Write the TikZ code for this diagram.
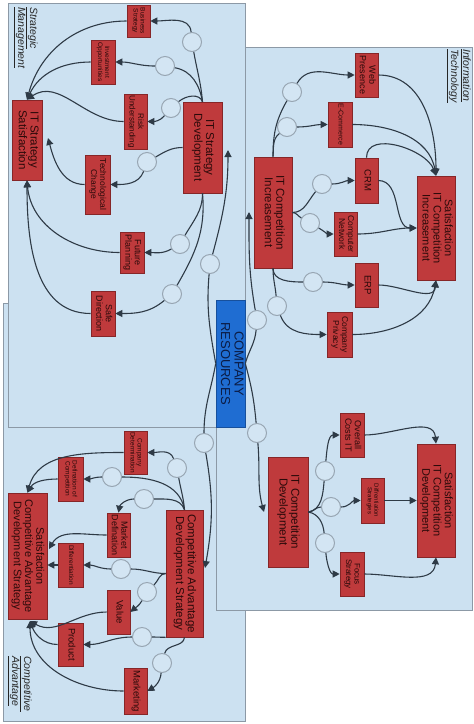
\documentclass[tikz,border=0pt]{standalone}
\usepackage{fontspec}
\setmainfont{Liberation Sans}
\setsansfont{Liberation Sans}
\usepackage{graphicx}
\usetikzlibrary{arrows.meta,calc}
\definecolor{panelfill}{HTML}{CCE1F1}
\definecolor{panelline}{HTML}{8C99A6}
\definecolor{boxfill}{HTML}{BF3A3C}
\definecolor{boxline}{HTML}{862628}
\definecolor{boxtext}{HTML}{2B0A0A}
\definecolor{crfill}{HTML}{1F6DD2}
\definecolor{crline}{HTML}{17509C}
\definecolor{crtext}{HTML}{0B1C45}
\definecolor{wirecol}{HTML}{2E3A46}
\definecolor{valvefill}{HTML}{D3E5F3}
\definecolor{valveline}{HTML}{98A6B3}
\newcommand{\rtxt}[3]{\rotatebox{-90}{\fontsize{#1}{#2}\selectfont\begin{tabular}{@{}c@{}}#3\end{tabular}}}
\begin{document}
\begin{tikzpicture}[x=1pt,y=1pt,
  panel/.style={fill=panelfill, draw=panelline, line width=1pt},
  box/.style={draw=boxline, fill=boxfill, line width=0.6pt, inner sep=0pt, text=boxtext},
  crbox/.style={draw=crline, fill=crfill, line width=0.6pt, inner sep=0pt, text=crtext},
  valve/.style={circle, draw=valveline, fill=valvefill, line width=1pt, minimum size=19pt, inner sep=0pt},
  wire/.style={draw=wirecol, line width=1.1pt},
  arr/.style={wire, -{Triangle[length=7pt,width=7pt]}},
  lbl/.style={rotate=-90, anchor=north west, align=left, font=\fontsize{10.5}{12}\selectfont\itshape, inner sep=0pt, text=black!85},
]
\useasboundingbox (0,0) rectangle (474,-724);
\fill[white] (0,0) rectangle (474,-724);
% panels
\draw[panel] (3,-303) rectangle (245,-721);
\draw[panel] (216,-47) rectangle (472,-610);
\draw[panel] (8,-3) rectangle (245,-427);
% labels
\node[lbl] (lsm) at (38,-7) {\underline{Strategic}\\\underline{Management}};
\node[lbl] (lit) at (471,-49) {\underline{Information}\\\underline{Technology}};
\node[lbl] (lca) at (32,-656) {\underline{Competitive}\\\underline{Advantage}};
% ---- Strategic Management boxes
\node[box,minimum width=23pt,minimum height=32pt] (bs) at (138.5,-21) {\rtxt{6.5}{6.8}{Business\\Strategy}};
\node[box,minimum width=24pt,minimum height=44pt] (io) at (103,-62) {\rtxt{6.5}{6.8}{Investment\\Opportunities}};
\node[box,minimum width=23pt,minimum height=55pt] (ru) at (135.5,-121.5) {\rtxt{8}{8.5}{Risk\\Understanding}};
\node[box,minimum width=39pt,minimum height=91pt] (itsd) at (202.5,-147.5) {\rtxt{11.5}{11.5}{IT Strategy\\Development}};
\node[box,minimum width=30pt,minimum height=80pt] (itss) at (27,-140) {\rtxt{11.5}{11.5}{IT Strategy\\Satisfaction}};
\node[box,minimum width=25pt,minimum height=59pt] (tc) at (97.5,-184.5) {\rtxt{8.5}{9}{Technological\\Change}};
\node[box,minimum width=24pt,minimum height=41pt] (fp) at (132,-252.5) {\rtxt{9}{9.5}{Future\\Planning}};
\node[box,minimum width=24pt,minimum height=45pt] (sd) at (103,-313.5) {\rtxt{9}{9.5}{Safe\\Direction}};
% company resources
\node[crbox,minimum width=29pt,minimum height=127pt] (cr) at (230.5,-363.5) {\rtxt{13}{13.5}{COMPANY\\RESOURCES}};
% ---- Information Technology boxes
\node[box,minimum width=23pt,minimum height=44pt] (wp) at (366.5,-75) {\rtxt{9}{9.5}{Web\\Presence}};
\node[box,minimum width=24pt,minimum height=45pt] (ec) at (340,-124.5) {\rtxt{7}{7}{E-Commerce}};
\node[box,minimum width=23pt,minimum height=45pt] (crm) at (366.5,-180.5) {\rtxt{9.5}{10}{CRM}};
\node[box,minimum width=23pt,minimum height=44pt] (cn) at (345.5,-234) {\rtxt{8.5}{9}{Computer\\Network}};
\node[box,minimum width=23pt,minimum height=44pt] (erp) at (366.5,-285) {\rtxt{9.5}{10}{ERP}};
\node[box,minimum width=25pt,minimum height=45pt] (cp) at (339.5,-334.5) {\rtxt{8.5}{9}{Company\\Privacy}};
\node[box,minimum width=38pt,minimum height=111pt] (itci) at (273,-212.5) {\rtxt{11.5}{11.5}{IT Competition\\Increasement}};
\node[box,minimum width=38pt,minimum height=104pt] (sitci) at (436,-228) {\rtxt{11}{11}{Satisfaction\\IT Competition\\Increasement}};
\node[box,minimum width=40pt,minimum height=110pt] (itcd) at (288,-512) {\rtxt{11.5}{11.5}{IT Competition\\Development}};
\node[box,minimum width=24pt,minimum height=44pt] (oc) at (352,-435) {\rtxt{9}{9.5}{Overall\\Costs IT}};
\node[box,minimum width=23pt,minimum height=45pt] (ds) at (372.5,-500.5) {\rtxt{6}{6.5}{Diffrentiation\\Strategies}};
\node[box,minimum width=24pt,minimum height=44pt] (fs) at (352,-574) {\rtxt{8}{8.5}{Focus\\Strategy}};
\node[box,minimum width=38pt,minimum height=113pt] (sitcd) at (436,-500.5) {\rtxt{11}{11}{Satisfaction\\IT Competition\\Development}};
% ---- Competitive Advantage boxes
\node[box,minimum width=23pt,minimum height=43pt] (cd) at (135.5,-452.5) {\rtxt{6.5}{7}{Company\\Determination}};
\node[box,minimum width=25pt,minimum height=44pt] (doc) at (70.5,-479) {\rtxt{6.5}{7}{Defination of\\Competition}};
\node[box,minimum width=23pt,minimum height=44pt] (md) at (118.5,-535) {\rtxt{9}{9.5}{Market\\Defination}};
\node[box,minimum width=25pt,minimum height=44pt] (diff) at (70.5,-565) {\rtxt{6.5}{7}{Differentiation}};
\node[box,minimum width=23pt,minimum height=44pt] (val) at (118.5,-612) {\rtxt{9.5}{10}{Value}};
\node[box,minimum width=25pt,minimum height=43pt] (prod) at (70.5,-644.5) {\rtxt{9.5}{10}{Product}};
\node[box,minimum width=23pt,minimum height=46pt] (mkt) at (135.5,-691) {\rtxt{9.5}{10}{Marketing}};
\node[box,minimum width=37pt,minimum height=127pt] (cads) at (184.5,-573.5) {\rtxt{11.5}{11.5}{Competitive Advantage\\Development Strategy}};
\node[box,minimum width=39pt,minimum height=126pt] (scads) at (27.5,-556) {\rtxt{11}{11}{Satisfaction\\Competitive Advantage\\Development Strategy}};
% ---- valves
\node[valve] (c1) at (192,-42) {};
\node[valve] (c2) at (165,-66) {};
\node[valve] (c3) at (171,-108) {};
\node[valve] (c4) at (147,-162) {};
\node[valve] (c5) at (180,-244) {};
\node[valve] (c6) at (172,-294) {};
\node[valve] (c7) at (210,-264) {};
\node[valve] (cw) at (292,-92) {};
\node[valve] (ce) at (287,-127) {};
\node[valve] (ccrm) at (322,-184) {};
\node[valve] (ccn) at (310,-223) {};
\node[valve] (cerp) at (313,-282) {};
\node[valve] (ccp) at (277,-306) {};
\node[valve] (cr1) at (257,-320) {};
\node[valve] (cr2) at (257,-433) {};
\node[valve] (coc) at (325,-471) {};
\node[valve] (cds) at (331,-507) {};
\node[valve] (cfs) at (325,-543) {};
\node[valve] (ccd) at (177,-468) {};
\node[valve] (cdoc) at (112,-477) {};
\node[valve] (cmd) at (144,-499) {};
\node[valve] (cdiff) at (121,-569) {};
\node[valve] (cval) at (147,-592) {};
\node[valve] (cprod) at (142,-637) {};
\node[valve] (cmkt) at (162,-663) {};
\node[valve] (c8) at (204,-443) {};
% free arrow ends
\coordinate (itsdin) at (228,-150);
\coordinate (itssr) at (48,-138);
\coordinate (itciin) at (249,-212);
\coordinate (itcdin) at (264,-512);
\coordinate (cadsin) at (205,-568);
\coordinate (scin1) at (49,-549);
\coordinate (scb) at (30,-621);
% ---- Strategic Management wires
\draw[wire] (itsd.north) to[out=95,in=-80] (c1);
\draw[arr] (c1) to[out=95,in=0] (bs.east);
\draw[wire] (itsd.north) to[out=100,in=-10] (c2);
\draw[arr] (c2) to[out=180,in=0] (io.east);
\draw[wire] (itsd.north) to[out=110,in=40] (c3);
\draw[arr] (c3) to[out=-130,in=0] (ru.east);
\draw[wire] (itsd.west) to[out=180,in=30] (c4);
\draw[arr] (c4) to[out=-110,in=0] (tc.east);
\draw[wire] (itsd.south) to[out=-90,in=60] (c5);
\draw[arr] (c5) to[out=-150,in=0] (fp.east);
\draw[wire] (itsd.south) to[out=-85,in=60] (c6);
\draw[arr] (c6) to[out=-140,in=0] (sd.east);
\draw[wire] (cr.west) to[out=100,in=-95] (c7);
\draw[arr] (c7) to[out=75,in=-90] (itsdin);
\draw[arr] (bs.west) to[out=180,in=75] (itss.north);
\draw[arr] (io.west) to[out=180,in=65] (itss.north);
\draw[arr] (ru.west) to[out=180,in=35] (itss.north);
\draw[arr] (tc.west) to[out=180,in=-75] (itssr);
\draw[arr] (fp.west) to[out=180,in=-85] (itss.south);
\draw[arr] (sd.west) to[out=180,in=-90] (itss.south);
% ---- Information Technology wires
\draw[wire] (itci.north) to[out=90,in=-120] (cw);
\draw[arr] (cw) to[out=60,in=180] (wp.west);
\draw[wire] (itci.north) to[out=85,in=-140] (ce);
\draw[arr] (ce) to[out=0,in=180] (ec.west);
\draw[arr] (wp.east) to[out=0,in=90] (sitci.north);
\draw[arr] (ec.east) to[out=0,in=100] (sitci.north);
\draw[arr] (crm.north) to[out=90,in=110] (sitci.north);
\draw[wire] (itci.east) to[out=0,in=-130] (ccrm);
\draw[arr] (ccrm) to[out=0,in=180] (crm.west);
\draw[wire] (itci.east) to[out=0,in=150] (ccn);
\draw[arr] (ccn) to[out=-30,in=180] (cn.west);
\draw[arr] (crm.east) to[out=0,in=180] (sitci.west);
\draw[arr] (cn.east) to[out=0,in=180] (sitci.west);
\draw[wire] (itci.south) to[out=-90,in=180] (cerp);
\draw[arr] (cerp) to[out=0,in=180] (erp.west);
\draw[arr] (erp.east) to[out=0,in=-95] (sitci.south);
\draw[wire] (itci.south) to[out=-90,in=95] (ccp);
\draw[arr] (ccp) to[out=-70,in=180] (cp.west);
\draw[arr] (cp.east) to[out=0,in=-100] (sitci.south);
\draw[wire] (cr.east) to[out=75,in=-95] (cr1);
\draw[arr] (cr1) to[out=100,in=-90] (itciin);
\draw[wire] (cr.east) to[out=-75,in=95] (cr2);
\draw[arr] (cr2) to[out=-85,in=105] (itcdin);
\draw[wire] (itcd.east) to[out=10,in=-95] (coc);
\draw[arr] (coc) to[out=85,in=180] (oc.west);
\draw[wire] (itcd.east) to[out=0,in=180] (cds);
\draw[arr] (cds) to[out=0,in=180] (ds.west);
\draw[wire] (itcd.east) to[out=-10,in=95] (cfs);
\draw[arr] (cfs) to[out=-85,in=180] (fs.west);
\draw[arr] (oc.east) to[out=0,in=95] (sitcd.north);
\draw[arr] (ds.east) -- (sitcd.west);
\draw[arr] (fs.east) to[out=0,in=-95] (sitcd.south);
% ---- Competitive Advantage wires
\draw[wire] (cr.west) to[out=-100,in=90] (c8);
\draw[arr] (c8) to[out=-80,in=80] (cadsin);
\draw[wire] (cads.north) to[out=95,in=-80] (ccd);
\draw[arr] (ccd) to[out=110,in=0] (cd.east);
\draw[wire] (cads.north) to[out=100,in=0] (cdoc);
\draw[arr] (cdoc) to[out=180,in=0] (doc.east);
\draw[wire] (cads.north) to[out=110,in=0] (cmd);
\draw[arr] (cmd) to[out=180,in=80] (md.north);
\draw[arr] (cd.west) to[out=180,in=75] (scads.north);
\draw[arr] (doc.west) to[out=180,in=60] (scads.north);
\draw[arr] (md.west) to[out=180,in=60] (scin1);
\draw[wire] (cads.west) to[out=180,in=0] (cdiff);
\draw[arr] (cdiff) to[out=180,in=0] (diff.east);
\draw[arr] (diff.west) -- (diff.west -| scads.east);
\draw[wire] (cads.west) to[out=180,in=45] (cval);
\draw[arr] (cval) to[out=-120,in=40] (val.east);
\draw[arr] (val.west) to[out=180,in=-30] (scb);
\draw[wire] (cads.south west) to[out=180,in=0] (cprod);
\draw[arr] (cprod) to[out=180,in=0] (prod.east);
\draw[arr] (prod.west) to[out=180,in=-70] (scb);
\draw[wire] (cads.south) to[out=-95,in=75] (cmkt);
\draw[arr] (cmkt) to[out=-95,in=30] (mkt.east);
\draw[arr] (mkt.west) to[out=180,in=-90] (scb);
\end{tikzpicture}
\end{document}
